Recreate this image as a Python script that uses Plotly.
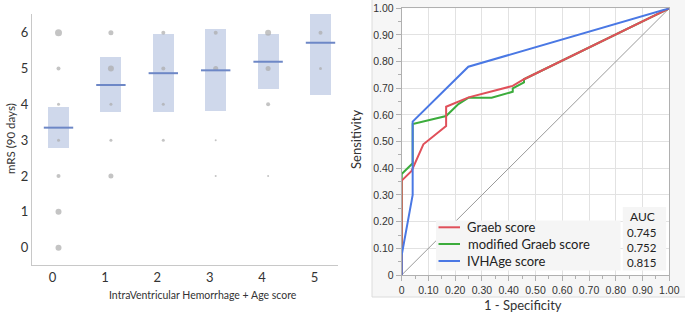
import plotly.graph_objects as go

W, H = 685, 315

# ---------------- Left panel data ----------------
scores = [0, 1, 2, 3, 4, 5]
box_low = [2.79, 3.78, 3.78, 3.82, 4.42, 4.25]
box_high = [3.92, 5.32, 5.96, 6.09, 5.96, 6.60]
means = [3.35, 4.54, 4.87, 4.95, 5.19, 5.72]

# individual outcome points: (score, mRS, marker size ~ count)
pt_score = [0, 0, 0, 0, 0, 0, 0,
            1, 1, 1, 1, 1,
            2, 2, 2, 2,
            3, 3, 3, 3,
            4, 4, 4, 4,
            5, 5]
pt_mrs = [6, 5, 4, 3, 2, 1, 0,
          6, 5, 4, 3, 2,
          6, 5, 4, 3,
          6, 5, 3, 2,
          6, 5, 4, 2,
          6, 5]
pt_size = [7, 4, 3, 3, 4, 6, 6,
           5, 6, 3, 3, 5,
           4, 4, 3, 3,
           4, 5, 2, 2,
           6, 5, 4, 2,
           4, 3]

# ---------------- Right panel data (ROC) ----------------
graeb_x = [0, 0, 0.037, 0.081, 0.166, 0.166, 0.25, 0.415, 0.457, 1.0]
graeb_y = [0, 0.354, 0.39, 0.49, 0.559, 0.631, 0.666, 0.709, 0.734, 1.0]
mgraeb_x = [0, 0, 0.041, 0.041, 0.166, 0.212, 0.25, 0.336, 0.415, 0.415, 0.457, 0.457, 1.0]
mgraeb_y = [0, 0.379, 0.419, 0.566, 0.596, 0.641, 0.665, 0.665, 0.687, 0.70, 0.722, 0.734, 1.0]
ivh_x = [0, 0, 0.041, 0.041, 0.249, 1.0]
ivh_y = [0, 0.075, 0.30, 0.575, 0.781, 1.0]
ref_x = [0, 1]
ref_y = [0, 1]

names = ["Graeb score", "modified Graeb score", "IVHAge score"]
aucs = ["0.745", "0.752", "0.815"]
colors = ["#e0505a", "#3cac3c", "#4a78e4"]

roc_tick_vals = [0, 0.1, 0.2, 0.3, 0.4, 0.5, 0.6, 0.7, 0.8, 0.9, 1.0]
roc_tick_text = ["0", "0.10", "0.20", "0.30", "0.40", "0.50", "0.60", "0.70", "0.80", "0.90", "1.00"]

# ---------------- Figure ----------------
fig = go.Figure()

# Left: mean +/- range boxes
fig.add_trace(go.Bar(
    x=scores, y=[h - l for h, l in zip(box_high, box_low)], base=box_low,
    width=0.4, marker=dict(color="#cfd8eb", line=dict(width=0)),
    xaxis="x", yaxis="y", showlegend=False, hoverinfo="skip"))
fig.add_trace(go.Scatter(
    x=pt_score, y=pt_mrs, mode="markers",
    marker=dict(size=pt_size, color="#ababab", line=dict(width=0)),
    xaxis="x", yaxis="y", showlegend=False))
fig.add_trace(go.Scatter(
    x=scores, y=means, mode="markers",
    marker=dict(symbol="line-ew", size=21, line=dict(width=2, color="#6d87c6")),
    xaxis="x", yaxis="y", showlegend=False))

# Right: ROC curves
fig.add_trace(go.Scatter(x=ref_x, y=ref_y, mode="lines",
                         line=dict(color="#9a9a9a", width=1),
                         xaxis="x2", yaxis="y2", showlegend=False))
for xs, ys, c in [(mgraeb_x, mgraeb_y, colors[1]), (graeb_x, graeb_y, colors[0]),
                  (ivh_x, ivh_y, colors[2])]:
    fig.add_trace(go.Scatter(x=xs, y=ys, mode="lines", line=dict(color=c, width=2),
                             xaxis="x2", yaxis="y2", showlegend=False))

def px_x(p):
    return p / W

def px_y(p):
    return 1 - p / H

left_font = dict(family="Lato", size=13, color="#333333")
right_font = dict(family="Liberation Sans", size=10.5, color="#333333")

fig.update_layout(
    width=W, height=H, autosize=False,
    margin=dict(l=0, r=0, t=0, b=0, pad=0),
    paper_bgcolor="white", plot_bgcolor="white",
    bargap=0,
    xaxis=dict(domain=[px_x(32), px_x(338)], range=[-0.506, 5.334], automargin=False,
               tickvals=scores, ticktext=[str(s) for s in scores],
               showgrid=False, zeroline=False, showline=True, linecolor="#c8c8c8",
               ticks="", tickfont=left_font, ticklabelshift=-6, anchor="y"),
    yaxis=dict(domain=[px_y(265), px_y(14)], range=[-0.483, 6.522], automargin=False,
               tickvals=[0, 1, 2, 3, 4, 5, 6],
               showgrid=False, zeroline=False, showline=True, linecolor="#c8c8c8",
               ticks="", tickfont=left_font, anchor="x"),
    xaxis2=dict(domain=[px_x(401.7), px_x(669.3)], range=[0, 1], automargin=False,
                tickvals=roc_tick_vals, ticktext=roc_tick_text,
                showgrid=True, gridcolor="#e2e2e2", gridwidth=1,
                zeroline=False, showline=True, linecolor="#b0b0b0", mirror=True,
                ticks="outside", ticklen=5, tickcolor="#b0b0b0",
                minor=dict(dtick=0.05, tick0=0, ticks="outside", ticklen=3,
                           tickcolor="#b0b0b0", showgrid=False),
                tickfont=right_font, anchor="y2"),
    yaxis2=dict(domain=[px_y(275), px_y(8.3)], range=[0, 1], automargin=False,
                tickvals=roc_tick_vals, ticktext=roc_tick_text,
                showgrid=True, gridcolor="#e2e2e2", gridwidth=1,
                zeroline=False, showline=True, linecolor="#b0b0b0", mirror=True,
                ticks="outside", ticklen=5, tickcolor="#b0b0b0",
                minor=dict(dtick=0.05, tick0=0, ticks="outside", ticklen=3,
                           tickcolor="#b0b0b0", showgrid=False),
                tickfont=right_font, anchor="x2"),
)

shapes = [
    # right panel frame
    dict(type="rect", xref="paper", yref="paper", x0=px_x(372), x1=1.01,
         y0=px_y(297), y1=1.01, fillcolor="#f6f6f6",
         line=dict(color="#dcdcdc", width=1), layer="below"),
    # white plot area
    dict(type="rect", xref="x2 domain", yref="y2 domain", x0=0, x1=1, y0=0, y1=1,
         fillcolor="white", line=dict(width=0), layer="below"),
    # legend box
    dict(type="rect", xref="x2", yref="y2", x0=0.128, x1=0.818, y0=0.017, y1=0.204,
         fillcolor="#f5f5f5", line=dict(width=0), layer="above"),
    # AUC box
    dict(type="rect", xref="x2", yref="y2", x0=0.826, x1=0.988, y0=0.017, y1=0.255,
         fillcolor="#f5f5f5", line=dict(width=0), layer="above"),
]

legend_rows_y = [227.3, 244.0, 261.0]
annotations = []
for name, c, ly in zip(names, colors, legend_rows_y):
    shapes.append(dict(type="line", xref="paper", yref="paper",
                       x0=px_x(438.5), x1=px_x(460), y0=px_y(ly), y1=px_y(ly),
                       line=dict(color=c, width=2), layer="above"))
    annotations.append(dict(text=name, xref="paper", yref="paper",
                            x=px_x(466.5), y=px_y(ly), xanchor="left", yanchor="middle",
                            showarrow=False, borderpad=0,
                            font=dict(family="Lato", size=13, color="#222222")))
annotations.append(dict(text="<br>".join(aucs), xref="paper", yref="paper",
                        x=px_x(657.5), y=px_y(247.7), xanchor="right", yanchor="middle",
                        align="right", showarrow=False, borderpad=0,
                        font=dict(family="Lato", size=11.5, color="#222222")))
annotations.append(dict(text="AUC", xref="paper", yref="paper",
                        x=px_x(642.7), y=px_y(216.2), xanchor="center", yanchor="middle",
                        showarrow=False, borderpad=0,
                        font=dict(family="Lato", size=12, color="#222222")))

# axis titles
annotations += [
    dict(text="IntraVentricular Hemorrhage + Age score", xref="paper", yref="paper",
         x=px_x(203), y=px_y(295), xanchor="center", yanchor="middle", showarrow=False,
         font=dict(family="Lato", size=10.5, color="#333333")),
    dict(text="mRS (90 days)", xref="paper", yref="paper",
         x=px_x(10), y=px_y(139), xanchor="center", yanchor="middle", showarrow=False,
         textangle=-90, font=dict(family="Lato", size=11.5, color="#333333")),
    dict(text="1 - Specificity", xref="paper", yref="paper",
         x=px_x(523), y=px_y(305), xanchor="center", yanchor="middle", showarrow=False,
         font=dict(family="Lato", size=13, color="#333333")),
    dict(text="Sensitivity", xref="paper", yref="paper",
         x=px_x(356), y=px_y(140), xanchor="center", yanchor="middle", showarrow=False,
         textangle=-90, font=dict(family="Lato", size=13, color="#333333")),
]

fig.update_layout(shapes=shapes, annotations=annotations)
fig.write_html("out.html", config={"displayModeBar": False},
               post_script="document.body.style.margin='0px';document.body.style.overflow='hidden';")
